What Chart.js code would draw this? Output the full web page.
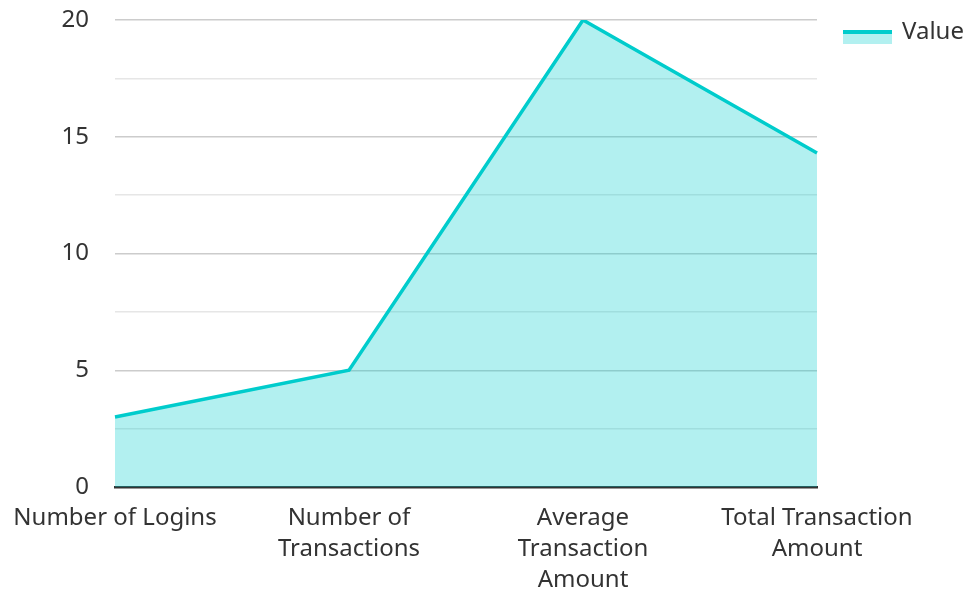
<!DOCTYPE html>
<html>
<head>
<meta charset="utf-8">
<script src="https://cdn.jsdelivr.net/npm/chart.js@4.4.1/dist/chart.umd.min.js"></script>
<style>
  html, body { margin: 0; padding: 0; background: #fff; }
  #wrap { position: relative; width: 966px; height: 589px; }
</style>
</head>
<body>
<div id="wrap"><canvas id="chart"></canvas></div>
<script>
const categories = [
  'Number of Logins',
  ['Number of', 'Transactions'],
  ['Average', 'Transaction', 'Amount'],
  ['Total Transaction', 'Amount']
];
const values = [3, 5, 20, 14.3];
const seriesName = 'Value';

const lineColor = '#00cccc';
const fillColor = 'rgba(0, 204, 204, 0.3)';
const textColor = '#333333';
const font = { family: 'Noto Sans', size: 24, lineHeight: 1.31 };

// legend drawn by hand: a line on top of a filled box
const sideLegend = {
  id: 'sideLegend',
  afterDraw(chart) {
    const ctx = chart.ctx;
    const x = chart.chartArea.right + 26;
    const y = 30;
    ctx.save();
    ctx.fillStyle = fillColor;
    ctx.fillRect(x, y, 49, 14);
    ctx.fillStyle = lineColor;
    ctx.fillRect(x, y, 49, 4);
    ctx.fillStyle = textColor;
    ctx.font = `${font.size}px ${font.family}`;
    ctx.textBaseline = 'middle';
    ctx.fillText(seriesName, x + 59, y + 2);
    ctx.restore();
  }
};

new Chart(document.getElementById('chart'), {
  type: 'line',
  data: {
    labels: categories,
    datasets: [{
      label: seriesName,
      data: values,
      borderColor: lineColor,
      backgroundColor: fillColor,
      borderWidth: 3.5,
      fill: 'origin',
      tension: 0,
      pointRadius: 0,
    }],
  },
  options: {
    responsive: true,
    maintainAspectRatio: false,
    animation: false,
    layout: { padding: { top: 0, right: 149, left: 0, bottom: 0 } },
    plugins: {
      legend: { display: false },
      tooltip: { enabled: false },
    },
    scales: {
      x: {
        offset: false,
        grid: { display: false, drawTicks: false },
        border: { color: '#333333', width: 2.5 },
        ticks: { color: textColor, font: font, padding: 15, maxRotation: 0, autoSkip: false },
        afterFit: (s) => { s.paddingLeft = 0; s.paddingRight = 0; s.height = 102; },
      },
      y: {
        min: 0,
        max: 20,
        grid: {
          drawTicks: false,
          color: (c) => (c.tick && c.tick.value % 5 === 0 ? '#cccccc' : '#e6e6e6'),
          lineWidth: 1.5,
        },
        border: { display: false },
        ticks: {
          stepSize: 2.5,
          color: textColor,
          font: font,
          padding: 26,
          callback: (v) => (v % 5 === 0 ? v : ''),
        },
        afterFit: (s) => { s.paddingTop = 20; s.paddingBottom = 0; s.width = 115; },
      },
    },
  },
  plugins: [sideLegend],
});
</script>
</body>
</html>
